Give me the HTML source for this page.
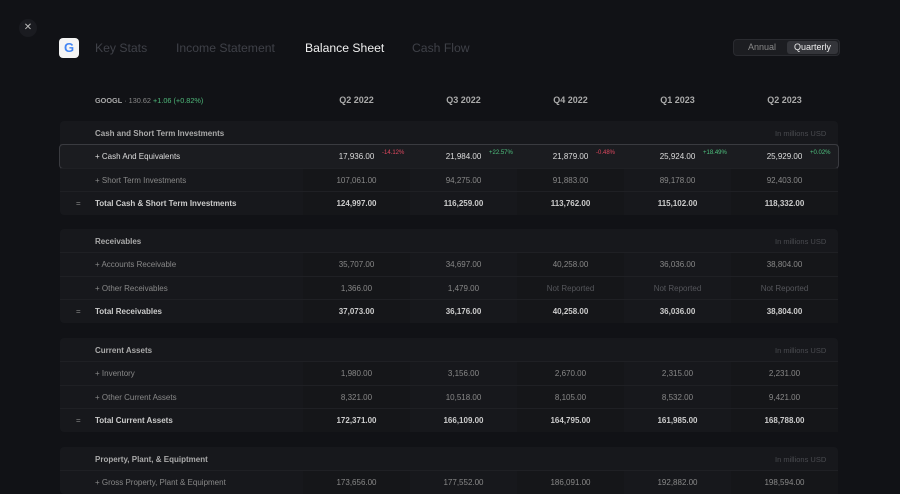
<!DOCTYPE html>
<html><head><meta charset="utf-8"><style>
*{box-sizing:border-box;margin:0;padding:0}
body{width:900px;height:484px;overflow:hidden;background:#111216;font-family:"Liberation Sans",sans-serif;position:relative;color:#ddd}
.abs{position:absolute}
.close{left:19px;top:19px;width:18px;height:18px;border-radius:50%;background:#1a1b20;color:#bbb;font-size:10px;text-align:center;line-height:18px}
.logo{left:59px;top:38px;width:20px;height:20px;border-radius:4px;background:#f4f4f4;color:#4285f4;font-weight:bold;font-size:13px;text-align:center;line-height:20px}
.tab{top:41px;font-size:12.2px;color:#3f4148}
.tab.on{color:#f0f0f0}
.toggle{left:733px;top:39px;width:107px;height:17px;border-radius:4px;background:#1c1d21;border:1px solid #2a2b30}
.tg{top:1px;height:13px;font-size:9px;line-height:13px;text-align:center;border-radius:3px;color:#888}
.hdr{top:95px;font-size:9px;color:#aaa;font-weight:bold}
.card{left:60px;width:778px;background:#17181c;border-radius:4px}
.rowline{left:60px;width:778px;height:1px;background:#1f2024}
.lbl{font-size:8px;left:95px}
.num{font-size:8px;text-align:center;width:107px}
.ul{height:1px;background:#5a5b60;width:88px}
.pct{font-size:6px}
</style></head><body>
<div class="abs close">✕</div>
<div class="abs logo">G</div>
<div class="abs tab" style="left:95px">Key Stats</div>
<div class="abs tab" style="left:176px">Income Statement</div>
<div class="abs tab on" style="left:305px">Balance Sheet</div>
<div class="abs tab" style="left:412px">Cash Flow</div>
<div class="abs toggle">
<div class="abs tg" style="left:3px;width:50px">Annual</div>
<div class="abs tg" style="left:53px;width:51px;background:#34353a;color:#eee">Quarterly</div>
</div>
<div class="abs" style="left:95px;top:96px;font-size:7.3px;color:#888"><b style="color:#aaa">GOOGL</b> · 130.62 <span style="color:#4fb87a">+1.06 (+0.82%)</span></div>
<div id="root"></div>
<script>
const periods=["Q2 2022","Q3 2022","Q4 2022","Q1 2023","Q2 2023"];
const sectionTitles=["Cash and Short Term Investments","Receivables","Current Assets","Property, Plant, & Equiptment"];
const sectionTops=[121,229,338,447];
const rowLabels=[["+ Cash And Equivalents","+ Short Term Investments","Total Cash & Short Term Investments"],["+ Accounts Receivable","+ Other Receivables","Total Receivables"],["+ Inventory","+ Other Current Assets","Total Current Assets"],["+ Gross Property, Plant & Equipment"]];
const values=[
[["17,936.00","21,984.00","21,879.00","25,924.00","25,929.00"],["107,061.00","94,275.00","91,883.00","89,178.00","92,403.00"],["124,997.00","116,259.00","113,762.00","115,102.00","118,332.00"]],
[["35,707.00","34,697.00","40,258.00","36,036.00","38,804.00"],["1,366.00","1,479.00","Not Reported","Not Reported","Not Reported"],["37,073.00","36,176.00","40,258.00","36,036.00","38,804.00"]],
[["1,980.00","3,156.00","2,670.00","2,315.00","2,231.00"],["8,321.00","10,518.00","8,105.00","8,532.00","9,421.00"],["172,371.00","166,109.00","164,795.00","161,985.00","168,788.00"]],
[["173,656.00","177,552.00","186,091.00","192,882.00","198,594.00"]]];
const changes=["-14.12%","+22.57%","-0.48%","+18.49%","+0.02%"];
const root=document.getElementById('root');
const colX=i=>303+i*107;
function mk(cls,style,text){const d=document.createElement('div');d.className='abs '+cls;d.style.cssText=style;if(text!=null)d.textContent=text;root.appendChild(d);return d;}
periods.forEach((p,i)=>{const d=mk('hdr num',`left:${colX(i)}px;font-size:9px`,p);

});
const RH=23.4;
sectionTitles.forEach((t,s)=>{
 const top=sectionTops[s];const n=rowLabels[s].length;
 const c=mk('card',`top:${top}px;height:${RH*(n+1)}px`);
 
 
 periods.forEach((p,i)=>{if(i%2==0){const b=mk('',`left:${colX(i)}px;top:${top+RH}px;width:107px;height:${RH*n}px;background:#151619`);}});
 const h=mk('lbl',`top:${top+8}px;color:#aaa;font-weight:bold`,t);
 
 
 const u=mk('',`left:775px;top:${top+8}px;font-size:7.5px;color:#4a4b50`,'In millions USD');
 
 
 rowLabels[s].forEach((l,r)=>{
  const y=top+RH*(r+1);
  const ln=mk('rowline',`top:${y}px`);
  const isTotal=r==2;const hi=s==0&&r==0;
  if(hi){const b=mk('',`left:59px;top:${y}px;width:780px;height:${RH+1}px;border:1px solid #3a3b40;border-radius:4px;background:#1b1c20`);}
  const col=isTotal?'#ccc':hi?'#ddd':'#888';const fw=isTotal?'bold':'normal';
  const L=mk('lbl',`top:${y+8}px;color:${col};font-weight:${fw}`,l);
  
  
  if(isTotal){const e=mk('',`left:76px;top:${y+8}px;font-size:8px;color:#888`,'=');}
  values[s][r].forEach((v,i)=>{
   const nr=v=='Not Reported';
   const d=mk('num',`left:${colX(i)}px;top:${y+8}px;color:${nr?'#55565b':col};font-weight:${fw}`,v);
   
   
   if(hi){const c2=changes[i];const pc=mk('pct',`left:${colX(i)+79}px;top:${y+6}px;color:${c2[0]=='-'?'#e0485f':'#4fc27f'}`,c2);}
   if(r==1){const ul=mk('ul',`left:${colX(i)+9}px;top:${y+RH-0.5}px`);}
  });
 });
});
</script>
</body></html>
